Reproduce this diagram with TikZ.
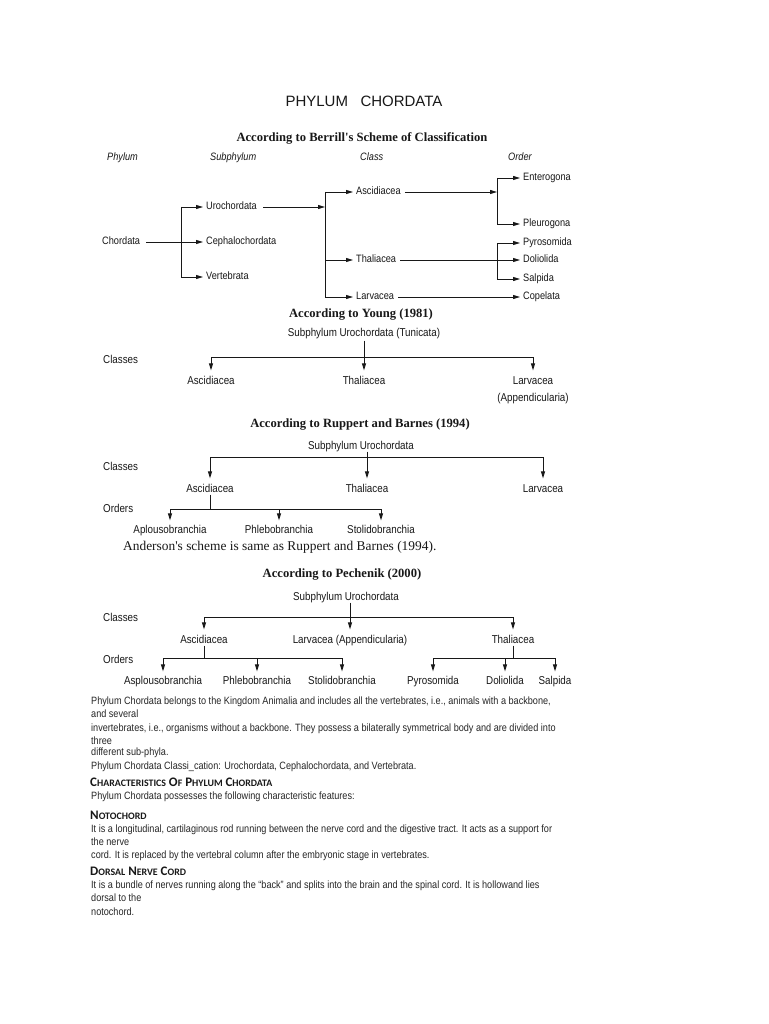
\documentclass[tikz,border=0pt]{standalone}
\usepackage{fontspec}
\setmainfont{Liberation Sans}
\newfontfamily\narrowfont{Liberation Sans}[FakeStretch=0.86]
\newfontfamily\headfont{Liberation Serif}
\newfontfamily\capsfont{Carlito}
\usetikzlibrary{arrows.meta}
\definecolor{ink}{HTML}{181818}
\definecolor{body}{HTML}{262626}
\newcommand\titlefont{\fontsize{15}{18}\selectfont}
\newcommand\berfont{\narrowfont\fontsize{10.7}{12}\selectfont}
\newcommand\labfont{\narrowfont\fontsize{11.4}{13}\selectfont}
\newcommand\bodyfont{\narrowfont\fontsize{10.6}{12}\selectfont}
\newcommand\sck[2]{#1{\fontsize{9.9}{11}\selectfont#2}}

\begin{document}
\begin{tikzpicture}[
  x=1pt,y=-1pt,
  text=ink,
  arr/.style={-{Triangle[length=7pt,width=4pt]},draw=ink,line width=.9pt},
  ln/.style={draw=ink,line width=.9pt},
  head/.style={font=\headfont\bfseries\fontsize{12.6}{15}\selectfont,inner sep=0pt},
  ber/.style={font=\berfont,inner sep=0pt,text height=8pt,text depth=2.1pt,anchor=west},
  col/.style={ber,font=\berfont\itshape},
  lab/.style={font=\labfont,inner sep=0pt,text height=8.5pt,text depth=2.3pt},
  txt/.style={font=\bodyfont,text=body,inner sep=0pt,anchor=west},
  capshead/.style={font=\capsfont\bfseries\fontsize{13}{15}\selectfont,inner sep=0pt,anchor=west}
]
  \fill[white] (0,0) rectangle (768,1024);
  \useasboundingbox (0,0) rectangle (768,1024);

  % Berrill
  \node[font=\titlefont,inner sep=0pt] (title) at (364,101) {PHYLUM\hspace{.83em}CHORDATA};
  \node[head] (berrill) at (362,138) {According to Berrill's Scheme of Classification};
  \node[col] (hphy) at (107,158) {Phylum};
  \node[col] (hsub) at (210,158) {Subphylum};
  \node[col] (hcla) at (360,158) {Class};
  \node[col] (hord) at (508,158) {Order};

  \node[ber] (chordata) at (102,242) {Chordata};
  \node[ber] (uro) at (206,207) {Urochordata};
  \node[ber] (cepha) at (206,242) {Cephalochordata};
  \node[ber] (verte) at (206,277) {Vertebrata};
  \node[ber] (ascid) at (356,192) {Ascidiacea};
  \node[ber] (thali) at (356,260) {Thaliacea};
  \node[ber] (larva) at (356,297) {Larvacea};
  \node[ber] (entero) at (523,178) {Enterogona};
  \node[ber] (pleuro) at (523,224) {Pleurogona};
  \node[ber] (pyro) at (523,243) {Pyrosomida};
  \node[ber] (dolio) at (523,260) {Doliolida};
  \node[ber] (salpi) at (523,279) {Salpida};
  \node[ber] (cope) at (523,297) {Copelata};

  \coordinate (brA) at (181,0);
  \coordinate (brB) at (325,0);
  \coordinate (brC) at (497,0);
  \draw[arr] ([xshift=6pt]chordata.east) -- ([xshift=-3pt]cepha.west);
  \draw[ln] (brA |- uro.west) -- (brA |- verte.west);
  \foreach \n in {uro,verte}
    \draw[arr] (brA |- \n.west) -- ([xshift=-3pt]\n.west);
  \draw[arr] ([xshift=6pt]uro.east) -- (brB |- uro.west);
  \draw[ln] (brB |- ascid.west) -- (brB |- larva.west);
  \foreach \n in {ascid,thali,larva}
    \draw[arr] (brB |- \n.west) -- ([xshift=-3pt]\n.west);
  \draw[arr] ([xshift=4pt]ascid.east) -- (brC |- ascid.west);
  \draw[ln] (brC |- entero.west) -- (brC |- pleuro.west);
  \draw[ln] (brC |- pyro.west) -- (brC |- salpi.west);
  \foreach \n in {entero,pleuro,pyro,salpi}
    \draw[arr] (brC |- \n.west) -- ([xshift=-3pt]\n.west);
  \draw[arr] ([xshift=4pt]thali.east) -- ([xshift=-3pt]dolio.west);
  \draw[arr] ([xshift=4pt]larva.east) -- ([xshift=-3pt]cope.west);

  % Young
  \node[head] (young) at (361,315) {According to Young (1981)};
  \node[lab] (ysub) at (364,333) {Subphylum Urochordata (Tunicata)};
  \node[lab,anchor=west] (ycls) at (103,360) {Classes};
  \node[lab] (yasc) at (211,381) {Ascidiacea};
  \node[lab] (ytha) at (364,381) {Thaliacea};
  \node[lab] (ylar) at (533,381) {Larvacea};
  \node[lab] (yapp) at (533,398) {(Appendicularia)};
  \coordinate (ybar) at (0,357);
  \draw[ln] (yasc |- ybar) -- (ylar |- ybar);
  \draw[arr] ([yshift=-2pt]ysub.south) -- ([yshift=5pt]ytha.north);
  \foreach \n in {yasc,ylar}
    \draw[arr] (\n |- ybar) -- ([yshift=5pt]\n.north);

  % Ruppert and Barnes
  \node[head] (ruppert) at (360,425) {According to Ruppert and Barnes (1994)};
  \node[lab] (rsub) at (361,446) {Subphylum Urochordata};
  \node[lab,anchor=west] (rcls) at (103,467) {Classes};
  \node[lab] (rasc) at (210,489) {Ascidiacea};
  \node[lab] (rtha) at (367,489) {Thaliacea};
  \node[lab] (rlar) at (543,489) {Larvacea};
  \node[lab,anchor=west] (rord) at (103,509) {Orders};
  \node[lab] (rapl) at (170,530) {Aplousobranchia};
  \node[lab] (rphl) at (279,530) {Phlebobranchia};
  \node[lab] (rsto) at (381,530) {Stolidobranchia};
  \node[font=\headfont\fontsize{13.4}{15}\selectfont,inner sep=0pt,anchor=west] (anders) at (123,547)
    {Anderson's scheme is same as Ruppert and Barnes (1994).};
  \coordinate (rbar) at (0,457);
  \coordinate (rbar2) at (0,509);
  \draw[ln] (rasc |- rbar) -- (rlar |- rbar);
  \draw[arr] (rtha |- rsub.south) -- ([yshift=5pt]rtha.north);
  \foreach \n in {rasc,rlar}
    \draw[arr] (\n |- rbar) -- ([yshift=5pt]\n.north);
  \draw[ln] (rasc.south) -- (rasc |- rbar2);
  \draw[ln] (rapl |- rbar2) -- (rsto |- rbar2);
  \foreach \n in {rapl,rphl,rsto}
    \draw[arr] (\n |- rbar2) -- ([yshift=4pt]\n.north);

  % Pechenik
  \node[head] (pechenik) at (342,575) {According to Pechenik (2000)};
  \node[lab] (psub) at (346,597) {Subphylum Urochordata};
  \node[lab,anchor=west] (pcls) at (103,618) {Classes};
  \node[lab] (pasc) at (204,640) {Ascidiacea};
  \node[lab] (plar) at (350,640) {Larvacea (Appendicularia)};
  \node[lab] (ptha) at (513,640) {Thaliacea};
  \node[lab,anchor=west] (pord) at (103,660) {Orders};
  \node[lab] (pasp) at (163,681) {Asplousobranchia};
  \node[lab] (pphl) at (257,681) {Phlebobranchia};
  \node[lab] (psto) at (342,681) {Stolidobranchia};
  \node[lab] (ppyr) at (433,681) {Pyrosomida};
  \node[lab] (pdol) at (505,681) {Doliolida};
  \node[lab] (psal) at (555,681) {Salpida};
  \coordinate (pbar) at (0,617);
  \coordinate (pbar2) at (0,658);
  \draw[ln] (pasc |- pbar) -- (ptha |- pbar);
  \draw[arr] (plar |- psub.south) -- ([yshift=5pt]plar.north);
  \foreach \n in {pasc,ptha}
    \draw[arr] (\n |- pbar) -- ([yshift=5pt]\n.north);
  \draw[ln] (pasc.south) -- (pasc |- pbar2);
  \draw[ln] (ptha.south) -- (ptha |- pbar2);
  \draw[ln] (pasp |- pbar2) -- (psto |- pbar2);
  \draw[ln] (ppyr |- pbar2) -- (psal |- pbar2);
  \foreach \n in {pasp,pphl,psto,ppyr,pdol,psal}
    \draw[arr] (\n |- pbar2) -- ([yshift=4pt]\n.north);

  % text below
  \foreach \y/\t in {
    702/{Phylum Chordata belongs to the Kingdom Animalia and includes all the vertebrates, i.e., animals with a backbone,},
    714/{and several},
    729/{invertebrates, i.e., organisms without a backbone. They possess a bilaterally symmetrical body and are divided into},
    741/{three},
    753/{different sub-phyla.},
    767/{Phylum Chordata Classi\_cation: Urochordata, Cephalochordata, and Vertebrata.},
    797/{Phylum Chordata possesses the following characteristic features:},
    830/{It is a longitudinal, cartilaginous rod running between the nerve cord and the digestive tract. It acts as a support for},
    842/{the nerve},
    856/{cord. It is replaced by the vertebral column after the embryonic stage in vertebrates.},
    886/{It is a bundle of nerves running along the “back” and splits into the brain and the spinal cord. It is hollowand lies},
    898/{dorsal to the},
    912/{notochord.}}
    \node[txt] (line\y) at (91,\y) {\t};
  \node[capshead] (charhead) at (90,782) {\sck{C}{HARACTERISTICS} \sck{O}{F} \sck{P}{HYLUM} \sck{C}{HORDATA}};
  \node[capshead] (notohead) at (90,815) {\sck{N}{OTOCHORD}};
  \node[capshead] (dorshead) at (90,871) {\sck{D}{ORSAL} \sck{N}{ERVE} \sck{C}{ORD}};
\end{tikzpicture}
\end{document}
